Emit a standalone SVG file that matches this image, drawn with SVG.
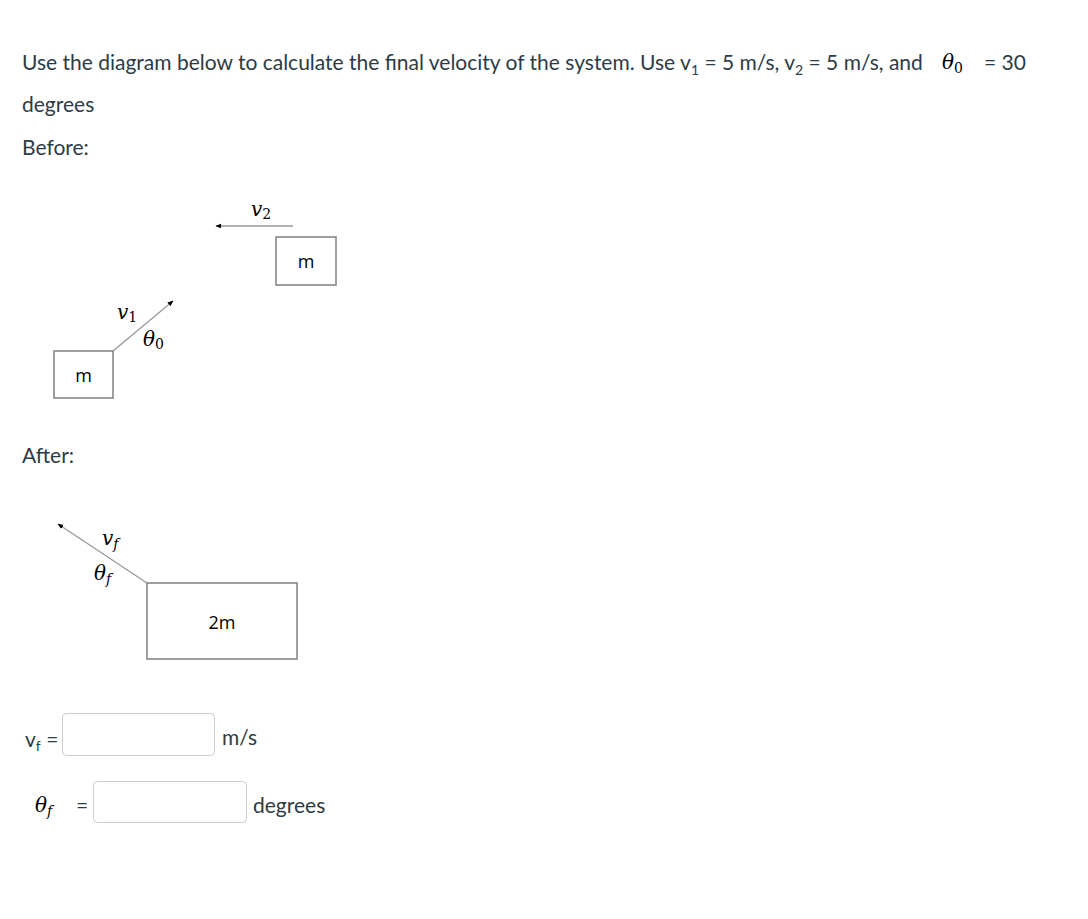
<svg xmlns="http://www.w3.org/2000/svg" width="1088" height="919" viewBox="0 0 1088 919">
<defs>
<style>
.t{font-family:Lato,"Open Sans","Liberation Sans",sans-serif;font-size:21px;fill:#2d3b45}
.s{font-family:"Open Sans","Liberation Sans",sans-serif;font-size:18px;fill:#000}
.m{font-family:"DejaVu Serif","Liberation Serif",serif;font-style:italic;font-size:20px;fill:#000}
.sub{font-size:14px}
.box{fill:#fff;stroke:#808080;stroke-width:1.5}
.in{fill:#fff;stroke:#c7cdd1;stroke-width:1}
.ln{stroke:#999;stroke-width:1.3;fill:none}
</style>
<marker id="ah" viewBox="0 0 10 10" refX="9" refY="5" markerWidth="6" markerHeight="6" orient="auto" markerUnits="userSpaceOnUse">
<path d="M0,1 L10,5 L0,9 z" fill="#000"/>
</marker>
</defs>
<rect width="1088" height="919" fill="#fff"/>
<g id="header">
<text class="t" x="22" y="70">Use the diagram below to calculate the final velocity of the system. Use v<tspan class="sub" dy="5">1</tspan><tspan dy="-5"> = 5 m/s, v</tspan><tspan class="sub" dy="5">2</tspan><tspan dy="-5"> = 5 m/s, and</tspan></text>
<text class="m" x="942" y="69" font-size="18">θ<tspan font-style="normal" font-size="14" dy="4">0</tspan></text>
<text class="t" x="984" y="70">= 30</text>
<text class="t" x="22" y="112">degrees</text>
<text class="t" x="22" y="155">Before:</text>
<text class="t" x="22" y="463">After:</text>
</g>
<g id="connectors">
<line class="ln" x1="293" y1="226" x2="216" y2="226" marker-end="url(#ah)"/>
<line class="ln" x1="113" y1="351" x2="173" y2="301" marker-end="url(#ah)"/>
<line class="ln" x1="147" y1="583" x2="58" y2="524" marker-end="url(#ah)"/>
</g>
<g id="labels">
<text class="m" x="251" y="216">v<tspan class="sub" font-style="normal" dy="3">2</tspan></text>
<text class="m" x="117" y="319">v<tspan class="sub" font-style="normal" dy="3">1</tspan></text>
<text class="m" x="143" y="346">θ<tspan class="sub" font-style="normal" dy="3">0</tspan></text>
<text class="m" x="102" y="545">v<tspan class="sub" dy="4">f</tspan></text>
<text class="m" x="94" y="580">θ<tspan class="sub" dy="4">f</tspan></text>
</g>
<g id="box-m-right">
<rect class="box" x="276" y="237" width="60" height="48"/>
<text class="s" x="306" y="268" text-anchor="middle">m</text>
</g>
<g id="box-m-left">
<rect class="box" x="54" y="351" width="59" height="47"/>
<text class="s" x="83.5" y="382" text-anchor="middle">m</text>
</g>
<g id="box-2m">
<rect class="box" x="147" y="583" width="150" height="76"/>
<text class="s" x="222" y="629" text-anchor="middle" font-size="20">2m</text>
</g>
<g id="answers">
<text class="t" x="25" y="747">v<tspan class="sub" dy="4">f</tspan><tspan dy="-4"> =</tspan></text>
<rect class="in" x="62.5" y="713.5" width="152" height="42" rx="4"/>
<text class="t" x="222" y="745">m/s</text>
<text class="m" x="35" y="812" font-size="19">θ<tspan class="sub" dy="4">f</tspan></text>
<text class="t" x="76" y="813">=</text>
<rect class="in" x="93.5" y="781.5" width="153" height="41" rx="4"/>
<text class="t" x="253" y="813">degrees</text>
</g>
</svg>
